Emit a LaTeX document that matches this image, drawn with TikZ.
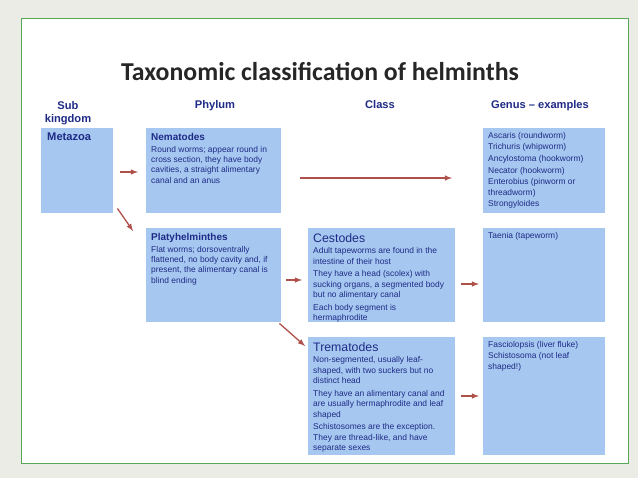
\documentclass[tikz,border=0pt]{standalone}
\usepackage{fontspec}
\setmainfont{Liberation Sans}
\newfontfamily\titlefont{Carlito}
\usepackage{xcolor}
\definecolor{boxblue}{HTML}{A6C8F0}
\definecolor{inkblue}{HTML}{1E2A86}
\definecolor{arrowred}{HTML}{B0504A}
\definecolor{pagegrey}{HTML}{ECECE6}
\hyphenpenalty=10000
\begin{document}
\begin{tikzpicture}[x=0.03cm,y=-0.03cm,
            taxbox/.style={rectangle, fill=boxblue, anchor=north west, inner sep=0pt},
            taxtext/.style={anchor=north west, text width=#1, align=flush left, font=\fontsize{7.2}{8.9}\selectfont, text=inkblue, inner sep=0pt},
            head/.style={font=\fontsize{9.5}{11}\selectfont\bfseries, text=inkblue, align=center, anchor=base},
            arrow/.style={line width=1.1pt,-latex, draw=arrowred}
        ]
            \useasboundingbox (0,0) rectangle (638,478);
            \fill[pagegrey] (0,0) rectangle (638,478);
            \draw[fill=white, draw=gray!70!green] (21,18) rectangle (628,463);

            % Title and column heads
            \node[font=\titlefont\bfseries\fontsize{22}{24}\selectfont, text=black!85] (title) at (320,72) {Taxonomic classification of helminths};
            \node[head, anchor=north] (hsub) at (68,97) {Sub\\kingdom};
            \node[head] (hphy) at (215,108) {Phylum};
            \node[head] (hcls) at (380,108) {Class};
            \node[head] (hgen) at (540,108) {Genus -- examples};

            % Boxes
            \node[taxbox, minimum width=72*0.03cm, minimum height=85*0.03cm] (meta) at (41,128) {};
            \node[taxbox, minimum width=135*0.03cm, minimum height=85*0.03cm] (nema) at (146,128) {};
            \node[taxbox, minimum width=135*0.03cm, minimum height=94*0.03cm] (platy) at (146,228) {};
            \node[taxbox, minimum width=147*0.03cm, minimum height=94*0.03cm] (cest) at (308,228) {};
            \node[taxbox, minimum width=147*0.03cm, minimum height=118*0.03cm] (trem) at (308,337) {};
            \node[taxbox, minimum width=122*0.03cm, minimum height=85*0.03cm] (gnema) at (483,128) {};
            \node[taxbox, minimum width=122*0.03cm, minimum height=94*0.03cm] (gcest) at (483,228) {};
            \node[taxbox, minimum width=122*0.03cm, minimum height=118*0.03cm] (gtrem) at (483,337) {};

            % Texts
            \node[taxtext=2cm, font=\fontsize{9.5}{11}\selectfont\bfseries] (tmeta) at (47,133) {Metazoa};
            \node[taxtext=3.75cm] (tnema) at (151,133) {{\fontsize{8.5}{10}\selectfont\bfseries Nematodes}\\[1pt]
                Round worms; appear round in cross section, they have body cavities, a straight alimentary canal and an anus};
            \node[taxtext=3.75cm] (tplaty) at (151,233) {{\fontsize{8.5}{10}\selectfont\bfseries Platyhelminthes}\\[1pt]
                Flat worms; dorsoventrally flattened, no body cavity and, if present, the alimentary canal is blind ending};
            \node[taxtext=4.1cm] (tcest) at (313,233) {{\fontsize{10.5}{12}\selectfont Cestodes}\\[1pt]
                Adult tapeworms are found in the intestine of their host\\[2pt]
                They have a head (scolex) with sucking organs, a segmented body but no alimentary canal\\[2pt]
                Each body segment is hermaphrodite};
            \node[taxtext=4.1cm] (ttrem) at (313,342) {{\fontsize{10.5}{12}\selectfont Trematodes}\\[1pt]
                Non-segmented, usually leaf-\\shaped, with two suckers but no distinct head\\[2pt]
                They have an alimentary canal and are usually hermaphrodite and leaf shaped\\[2pt]
                Schistosomes are the exception. They are thread-like, and have separate sexes};
            \node[taxtext=3.4cm] (tgnema) at (488,132) {Ascaris (roundworm)\\[1pt] Trichuris (whipworm)\\[1pt]
                Ancylostoma (hookworm)\\[1pt] Necator (hookworm)\\[1pt] Enterobius (pinworm or threadworm)\\[1pt] Strongyloides};
            \node[taxtext=3.4cm] (tgcest) at (488,232) {Taenia (tapeworm)};
            \node[taxtext=3.3cm] (tgtrem) at (488,341) {Fasciolopsis (liver fluke)\\[1pt] Schistosoma (not leaf shaped!)};

            % Arrows
            \draw[arrow] ([xshift=7*0.03cm, yshift=-44*0.03cm]meta.north east) -- ([xshift=-8*0.03cm, yshift=-44*0.03cm]nema.north west);
            \draw[arrow] ([xshift=4*0.03cm, yshift=5*0.03cm]meta.south east) -- ([xshift=-13*0.03cm, yshift=-3*0.03cm]platy.north west);
            \draw[arrow] ([xshift=19*0.03cm, yshift=-50*0.03cm]nema.north east) -- ([xshift=-31*0.03cm, yshift=-50*0.03cm]gnema.north west);
            \draw[arrow] ([xshift=5*0.03cm, yshift=-52*0.03cm]platy.north east) -- ([xshift=-6*0.03cm, yshift=-52*0.03cm]cest.north west);
            \draw[arrow] ([xshift=-2*0.03cm, yshift=-1*0.03cm]platy.south east) -- ([xshift=-3*0.03cm, yshift=-9*0.03cm]trem.north west);
            \draw[arrow] ([xshift=6*0.03cm, yshift=-56*0.03cm]cest.north east) -- ([xshift=-4*0.03cm, yshift=-56*0.03cm]gcest.north west);
            \draw[arrow] ([xshift=6*0.03cm, yshift=-59*0.03cm]trem.north east) -- ([xshift=-4*0.03cm, yshift=-59*0.03cm]gtrem.north west);

        \end{tikzpicture}
\end{document}
